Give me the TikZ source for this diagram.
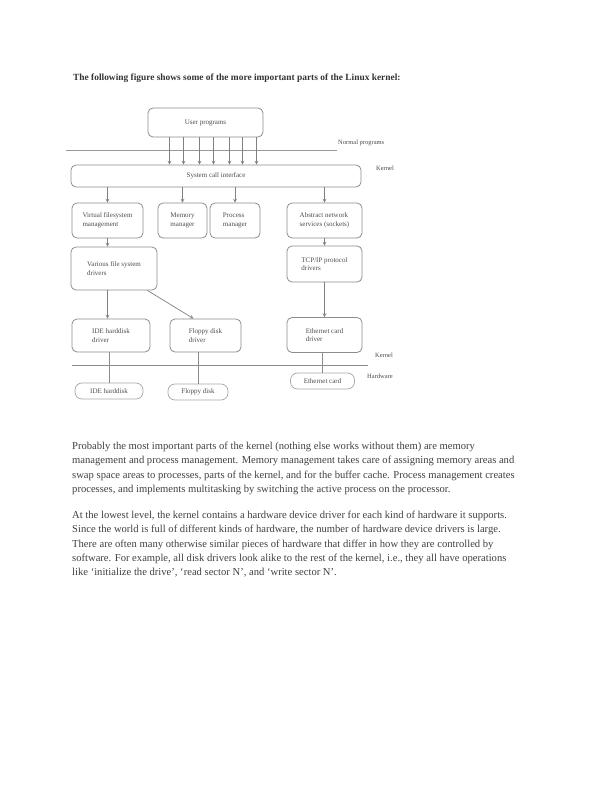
\documentclass[tikz,border=0pt]{standalone}
\usepackage{fontspec}
\setmainfont{Liberation Serif}
\usetikzlibrary{positioning}

\begin{document}
\begin{tikzpicture}[x=1pt,y=-1pt,
  part/.style={draw=black!45, line width=0.8pt, rounded corners=5pt,
    align=left, inner sep=2pt, text=black!70,
    font=\fontsize{7}{8.5}\selectfont},
  hw/.style={draw=black!35, line width=0.7pt, rounded corners=7pt,
    minimum height=16pt, inner sep=2pt, text=black!70,
    font=\fontsize{7}{8.5}\selectfont},
  side/.style={text=black!70, font=\fontsize{6.5}{8}\selectfont, inner sep=1pt},
  link/.style={draw=black!50, line width=0.7pt, -stealth},
  para/.style={anchor=north west, inner sep=0pt, align=left, text=black!75,
    font=\fontsize{10.6}{14.2}\selectfont}]
  \useasboundingbox (0,0) rectangle (612,792);

  % heading
  \node[anchor=base west, inner sep=0pt, text=black!80,
    font=\fontsize{9.4}{11}\selectfont\bfseries] (head) at (73,81)
    {The following figure shows some of the more important parts of the Linux kernel:};

  % user level
  \node[part, align=center, minimum width=115pt, minimum height=29pt] (user) at (205.5,122.5) {User programs};
  \coordinate (ul) at (66,150);
  \coordinate (ur) at (337,150);
  \draw[black!40, line width=0.6pt] (ul) -- (ur);
  \node[side, anchor=south west] (normal) at (337,147) {Normal programs};

  \node[part, align=center, minimum width=290pt, minimum height=22pt] (sci) at (216,176) {System call interface};
  \node[side] (kern1) at (385,168) {Kernel};

  \foreach \dx [count=\i] in {-36,-22,-6,8,24,37,51} {
    \coordinate (s\i) at ([xshift=\dx pt]user.south);
    \draw[link] (s\i) -- (s\i |- sci.north);
  }

  % kernel parts
  \node[part, minimum width=71pt, minimum height=35pt] (vfs) at (107.5,220.5) {Virtual filesystem\\management};
  \node[part, minimum width=49pt, minimum height=35pt] (mem) at (182.5,220.5) {Memory\\manager};
  \node[part, minimum width=50pt, minimum height=35pt] (proc) at (235,220.5) {Process\\manager};
  \node[part, minimum width=75pt, minimum height=35pt] (net) at (324.5,220.5) {Abstract network\\services (sockets)};

  \node[part, minimum width=86pt, minimum height=43pt] (fsdrv) at (114,268.5) {Various file system\\drivers};
  \node[part, minimum width=75pt, minimum height=36pt] (tcp) at (324.5,264) {TCP/IP protocol\\drivers};

  \node[part, minimum width=78pt, minimum height=33pt] (ide) at (111,335.5) {IDE harddisk\\driver};
  \node[part, minimum width=71pt, minimum height=33pt] (flop) at (205.5,335.5) {Floppy disk\\driver};
  \node[part, minimum width=75pt, minimum height=35pt] (eth) at (324.5,335) {Ethernet card\\driver};

  \coordinate (fs1) at ([xshift=-10pt]fsdrv.south east);
  \coordinate (fl1) at ([xshift=-12pt]flop.north);

  \draw[link] (sci.south -| vfs.north) -- (vfs.north);
  \draw[link] (sci.south -| mem.north) -- (mem.north);
  \draw[link] (sci.south -| proc.north) -- (proc.north);
  \draw[link] (sci.south -| net.north) -- (net.north);
  \draw[link] (vfs.south) -- (vfs.south |- fsdrv.north);
  \draw[link] (fsdrv.south -| vfs.south) -- (ide.north -| vfs.south);
  \draw[link] (fs1) -- (fl1);
  \draw[link] (net.south) -- (tcp.north);
  \draw[link] (tcp.south) -- (eth.north);

  % hardware level
  \coordinate (hl) at (72,365);
  \coordinate (hr) at (368,365);
  \draw[black!45, line width=0.7pt] (hl) -- (hr);
  \node[side] (kern2) at (384,355) {Kernel};
  \node[side] (hard) at (380,376) {Hardware};

  \node[hw, minimum width=68pt] (disk) at (109,391) {IDE harddisk};
  \node[hw, minimum width=60pt] (floppy) at (198,392) {Floppy disk};
  \node[hw, minimum width=64pt] (card) at (322.5,381) {Ethernet card};

  \draw[black!45, line width=0.7pt] (ide.south -| disk.north) -- (disk.north);
  \draw[black!45, line width=0.7pt] (flop.south -| floppy.north) -- (floppy.north);
  \draw[black!45, line width=0.7pt] (eth.south -| card.north) -- (card.north);

  % text
  \node[para] (p1) at (72,442) {Probably the most important parts of the kernel (nothing else works without them) are memory\\
management and process management. Memory management takes care of assigning memory areas and\\
swap space areas to processes, parts of the kernel, and for the buffer cache. Process management creates\\
processes, and implements multitasking by switching the active process on the processor.};

  \node[para] (p2) at (72,511) {At the lowest level, the kernel contains a hardware device driver for each kind of hardware it supports.\\
Since the world is full of different kinds of hardware, the number of hardware device drivers is large.\\
There are often many otherwise similar pieces of hardware that differ in how they are controlled by\\
software. For example, all disk drivers look alike to the rest of the kernel, i.e., they all have operations\\
like `initialize the drive', `read sector N', and `write sector N'.};
\end{tikzpicture}
\end{document}
